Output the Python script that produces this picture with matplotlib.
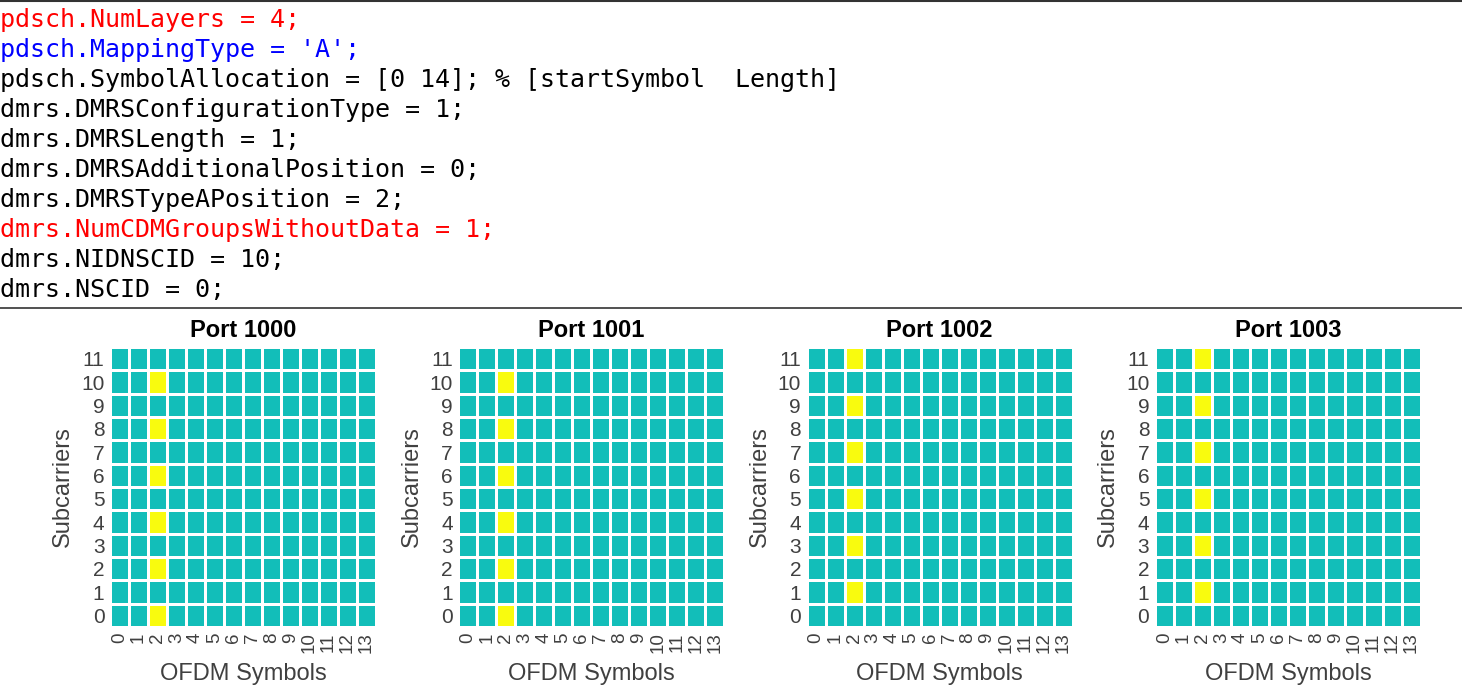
import numpy as np
import matplotlib.pyplot as plt
from matplotlib.colors import ListedColormap
from matplotlib.lines import Line2D

# -----------------------------
# DATA
# -----------------------------
code_lines = [
    "pdsch.NumLayers = 4;",
    "pdsch.MappingType = 'A';",
    "pdsch.SymbolAllocation = [0 14]; % [startSymbol  Length]",
    "dmrs.DMRSConfigurationType = 1;",
    "dmrs.DMRSLength = 1;",
    "dmrs.DMRSAdditionalPosition = 0;",
    "dmrs.DMRSTypeAPosition = 2;",
    "dmrs.NumCDMGroupsWithoutData = 1;",
    "dmrs.NIDNSCID = 10;",
    "dmrs.NSCID = 0;",
]
code_colors = ["red", "blue", "black", "black", "black",
               "black", "black", "red", "black", "black"]

ports = ["Port 1000", "Port 1001", "Port 1002", "Port 1003"]
n_symbols = 14
n_subcarriers = 12
dmrs_symbol = [2, 2, 2, 2]
dmrs_subcarriers = [
    [0, 2, 4, 6, 8, 10],
    [0, 2, 4, 6, 8, 10],
    [1, 3, 5, 7, 9, 11],
    [1, 3, 5, 7, 9, 11],
]

teal = "#12BEB9"
yellow = "#F9FB0E"
label_gray = "#404040"

# -----------------------------
# FIGURE
# -----------------------------
W, H = 1462, 685
fig = plt.figure(figsize=(W / 100, H / 100), dpi=100)

# code block
for i, (line, col) in enumerate(zip(code_lines, code_colors)):
    fig.text(0 / W, 1 - (27 + 30 * i) / H, line, color=col,
             family="DejaVu Sans Mono", fontsize=18, va="baseline", ha="left")

fig.add_artist(Line2D([0, 1], [1 - 0.5 / H, 1 - 0.5 / H], color="#333333", lw=1.5))
fig.add_artist(Line2D([0, 1], [1 - 308 / H, 1 - 308 / H], color="#333333", lw=1.2))

# heatmaps
cmap = ListedColormap([teal, yellow])
for i, name in enumerate(ports):
    left = (110 + 348.3 * i) / W
    ax = fig.add_axes([left, 1 - 627 / H, 266 / W, 280 / H])

    grid = np.zeros((n_subcarriers, n_symbols))
    grid[dmrs_subcarriers[i], dmrs_symbol[i]] = 1

    ax.pcolormesh(np.arange(n_symbols + 1) - 0.5, np.arange(n_subcarriers + 1) - 0.5,
                  grid, cmap=cmap, vmin=0, vmax=1, edgecolors="white", linewidth=1.0)
    ax.set_xlim(-0.5, n_symbols - 0.5)
    ax.set_ylim(-0.5, n_subcarriers - 0.5)

    ax.set_xticks(range(n_symbols))
    ax.set_xticklabels([str(s) for s in range(n_symbols)], rotation=90,
                       family="Liberation Sans", fontsize=13.5, color=label_gray)
    ax.set_yticks(range(n_subcarriers))
    ax.set_yticklabels([str(s) for s in range(n_subcarriers)],
                       family="Liberation Sans", fontsize=15, color=label_gray)
    ax.tick_params(length=0, pad=4)
    for sp in ax.spines.values():
        sp.set_visible(False)

    ax.set_title(name, family="Liberation Sans", fontsize=17, fontweight="bold", pad=7)
    ax.set_xlabel("OFDM Symbols", family="Liberation Sans", fontsize=17,
                  color=label_gray, labelpad=7)
    ax.set_ylabel("Subcarriers", family="Liberation Sans", fontsize=17,
                  color=label_gray, labelpad=5)

fig.savefig("out.png", dpi=100)
